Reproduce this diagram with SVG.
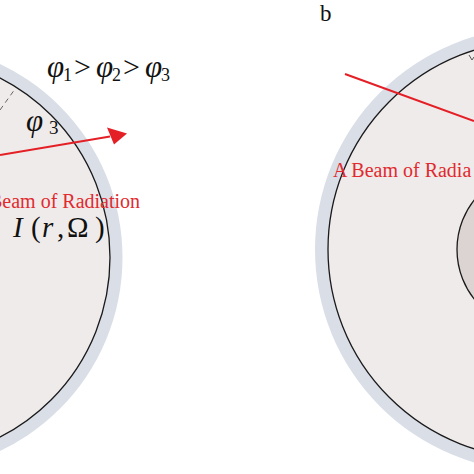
<svg xmlns="http://www.w3.org/2000/svg" width="474" height="474" viewBox="0 0 474 474">
<style>
.band{fill:#d9dee7}
.cell{fill:#efebea;stroke:#1a1a1a;stroke-width:1.3}
.core{fill:#dbd4d2;stroke:#1a1a1a;stroke-width:1.3}
.ray{stroke:#e41f26;stroke-width:2;fill:none}
.red{fill:#e02a2f;font-family:"Liberation Serif",serif;font-size:20px}
.m{font-family:"Liberation Serif",serif;fill:#111}
.it{font-style:italic}
</style>
<rect width="474" height="474" fill="#fff"/>
<g id="circle-a">
<circle cx="-91.5" cy="257.5" r="214" class="band"/>
<circle cx="-91.5" cy="257.5" r="201.5" class="cell"/>
<line x1="0" y1="110" x2="15" y2="89" stroke="#555" stroke-width="0.9" stroke-dasharray="5,4"/>
</g>
<g id="circle-b">
<circle cx="537" cy="249.5" r="222" class="band"/>
<circle cx="537" cy="249.5" r="209" class="cell"/>
<circle cx="537" cy="249.5" r="80" class="core"/>
<polyline points="469,55 472,60 474,57" fill="none" stroke="#555" stroke-width="1"/>
</g>
<g id="connectors">
<line x1="0" y1="155" x2="110" y2="136.5" class="ray"/>
<path d="M127,133.5 L107,127.5 L114,144.5 z" fill="#e41f26"/>
<line x1="345" y1="74" x2="474" y2="121" class="ray"/>
</g>
<g id="labels-a">
<text class="m" font-size="31" y="77"><tspan class="it" x="47">φ</tspan><tspan x="63" y="81" font-size="18">1</tspan><tspan x="74" y="77" font-size="30">&gt;</tspan><tspan class="it" x="96">φ</tspan><tspan x="112" y="81" font-size="18">2</tspan><tspan x="123" y="77" font-size="30">&gt;</tspan><tspan class="it" x="145">φ</tspan><tspan x="161" y="81" font-size="18">3</tspan></text>
<text class="m" font-size="31" y="131"><tspan class="it" x="26">φ</tspan><tspan x="49" y="134" font-size="19">3</tspan></text>
<text class="red" x="-11" y="208">Beam of Radiation</text>
<text class="m" font-size="29" y="237"><tspan class="it" x="13">I</tspan><tspan x="31">(</tspan><tspan class="it" x="42">r</tspan><tspan x="57">,</tspan><tspan x="67">Ω</tspan><tspan x="95">)</tspan></text>
</g>
<g id="labels-b">
<text class="m" font-size="23" x="320" y="21">b</text>
<text class="red" x="333" y="177">A Beam of Radia</text>
</g>
</svg>
